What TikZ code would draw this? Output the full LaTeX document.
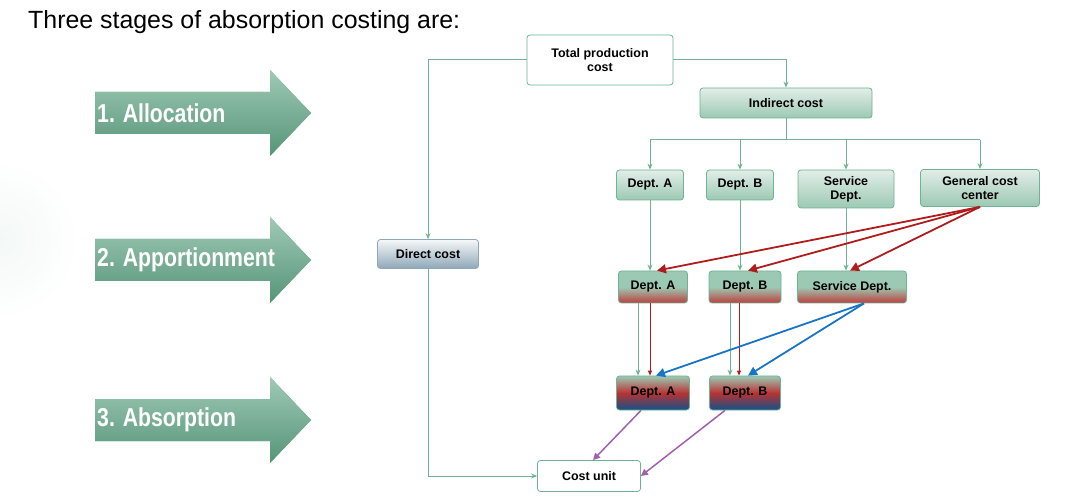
\documentclass[tikz,border=0pt]{standalone}
\usepackage{fontspec}
\setmainfont{Liberation Sans}
\newfontfamily\narrowf[FakeStretch=0.82]{Liberation Sans}
\usetikzlibrary{arrows.meta,calc}
\definecolor{gbox}{HTML}{9CC9B3}
\definecolor{gtop}{HTML}{E2EEE8}
\definecolor{gline}{HTML}{6DB394}
\definecolor{rline}{HTML}{B01C1C}
\definecolor{bline}{HTML}{1874C4}
\definecolor{pline}{HTML}{A060B0}
\definecolor{arrowg}{HTML}{5FA585}
\definecolor{dcb}{HTML}{8FA7B8}
\tikzset{
 box/.style={draw=gline,line width=0.8pt,rounded corners=3pt,top color=gtop,bottom color=gbox,font=\bfseries\fontsize{12.5}{14}\selectfont,align=center,inner sep=2pt},
 rbox/.style={draw=gline,line width=0.8pt,rounded corners=3pt,top color=gbox,bottom color=rline!85,middle color=gbox,font=\bfseries\fontsize{12.5}{14}\selectfont,inner sep=2pt},
 bbox/.style={draw=gline,line width=0.8pt,rounded corners=3pt,top color=gbox,bottom color=bline!70!black,middle color=rline!90,font=\bfseries\fontsize{12.5}{14}\selectfont,inner sep=2pt},
 ga/.style={gline,line width=1pt,-{Stealth[length=6pt,width=5pt,open]}},
 ra/.style={rline,line width=1.8pt,-{Triangle[length=9pt,width=9pt]}},
 rthin/.style={rline,line width=1pt,-{Triangle[length=5pt,width=4pt]}},
 ba/.style={bline,line width=1.8pt,-{Triangle[length=9pt,width=9pt]}},
 pa/.style={pline,line width=1.5pt,-{Triangle[length=7pt,width=7pt]}},
 big/.style={fill=arrowg,draw=none},
 biglab/.style={text=white,font=\narrowf\bfseries\fontsize{26}{28}\selectfont,anchor=west}
}
\begin{document}
\begin{tikzpicture}[x=1bp,y=-1bp]
\useasboundingbox (0,0) rectangle (1080,503);
\fill[white] (0,0) rectangle (1080,503);
\shade[inner color=gtop!40,outer color=white] (0,240) circle (80);
\node[anchor=west,font=\fontsize{25}{28}\selectfont,inner sep=0pt] (title) at (28,22) {Three stages of absorption costing are:};
% big arrows
\foreach \y/\t [count=\i] in {113/1. Allocation,260/2. Apportionment,420/3. Absorption}{
 \fill[big,top color=arrowg!60,bottom color=arrowg!90!black] (95,\y-21) -- (270,\y-21) -- (270,\y-43) -- (311,\y) -- (270,\y+43) -- (270,\y+21) -- (95,\y+21) -- cycle;
 \node[biglab,inner sep=0pt] (stage\i) at (97,\y) {\t};
}
\node[box,top color=white,bottom color=white,minimum width=146bp,minimum height=50bp] (tpc) at (600,60) {Total production\\cost};
\node[box,minimum width=172bp,minimum height=30bp] (ind) at (786,103) {Indirect cost};
\node[box,minimum width=67bp,minimum height=30bp] (a1) at (650,185) {Dept. A};
\node[box,minimum width=67bp,minimum height=30bp] (b1) at (740,185) {Dept. B};
\node[box,minimum width=96bp,minimum height=38bp] (s1) at (846,189) {Service\\Dept.};
\node[box,minimum width=119bp,minimum height=37bp] (g1) at (980,188) {General cost\\center};
\node[box,top color=white!92!dcb,bottom color=dcb,draw=dcb,minimum width=101bp,minimum height=29bp] (dc) at (428,254) {Direct cost};
\node[rbox,minimum width=69bp,minimum height=32bp] (a2) at (653,287) {Dept. A};
\node[rbox,minimum width=72bp,minimum height=32bp] (b2) at (745,287) {Dept. B};
\node[rbox,minimum width=109bp,minimum height=32bp] (s2) at (852,287) {Service Dept.};
\node[bbox,minimum width=73bp,minimum height=34bp] (a3) at (653,393) {Dept. A};
\node[bbox,minimum width=71bp,minimum height=34bp] (b3) at (745,393) {Dept. B};
\node[box,top color=white,bottom color=white,minimum width=103bp,minimum height=31bp] (cu) at (589,476) {Cost unit};
% connectors
\draw[ga] (tpc.west) -| (dc.north);
\draw[ga] (tpc.east) -| (ind.north);
\draw[gline,line width=1pt] (ind.south) -- (786,140);
\draw[gline,line width=1pt] (650,140) -- (980,140);
\draw[ga] (650,140) -- (a1.north);
\draw[ga] (740,140) -- (b1.north);
\draw[ga] (846,140) -- (s1.north);
\draw[ga] (980,140) -- (g1.north);
\draw[ga] (dc.south) |- (cu.west);
\draw[ga] (a1.south) -- (a1.south |- a2.north);
\draw[ga] (b1.south) -- (b1.south |- b2.north);
\draw[ga] (s1.south) -- (s1.south |- s2.north);
\draw[ra] (g1.south) -- ([xshift=4bp]a2.north);
\draw[ra] (g1.south) -- ([xshift=3bp]b2.north);
\draw[ra] (g1.south) -- ([xshift=-2bp]s2.north);
\draw[ga] ([xshift=-15bp]a2.south) -- ([xshift=-15bp]a3.north);
\draw[rthin] ([xshift=-3bp]a2.south) -- ([xshift=-3bp]a3.north);
\draw[ga] ([xshift=-15bp]b2.south) -- ([xshift=-15bp]b3.north);
\draw[rthin] ([xshift=-6bp]b2.south) -- ([xshift=-6bp]b3.north);
\draw[ba] ([xshift=12bp]s2.south) -- ([xshift=3bp]a3.north);
\draw[ba] ([xshift=12bp]s2.south) -- ([xshift=3bp]b3.north);
\draw[pa] ([xshift=-12bp]a3.south) -- ([xshift=4bp]cu.north);
\draw[pa] ([xshift=-20bp]b3.south) -- (cu.east);
\end{tikzpicture}
\end{document}
